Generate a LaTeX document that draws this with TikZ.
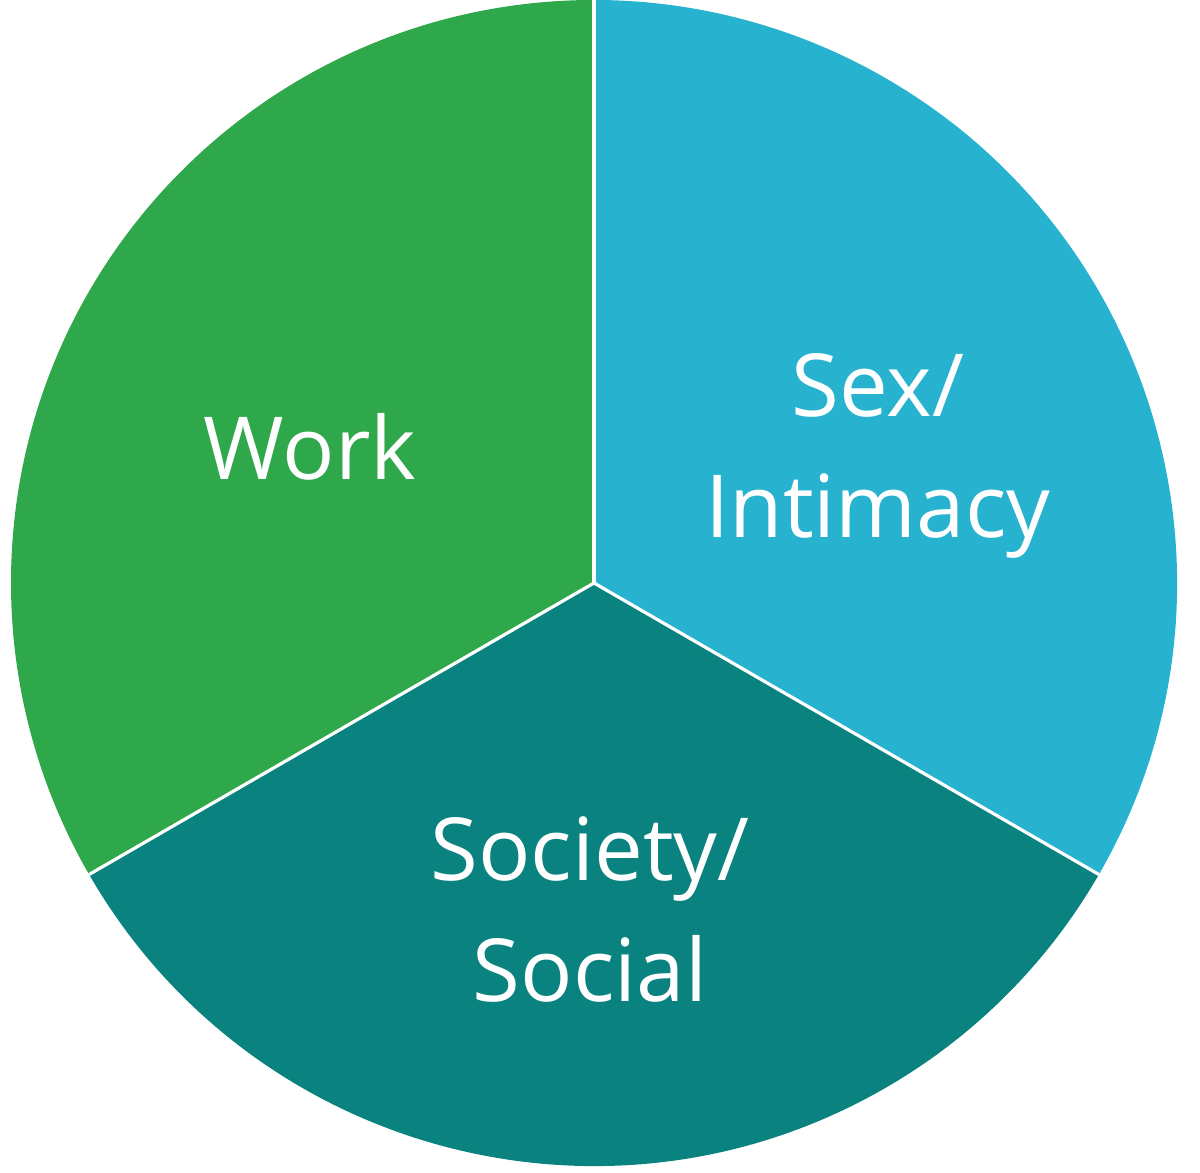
\documentclass[tikz,border=0pt]{standalone}
\usepackage{fontspec}
\setmainfont{Open Sans}
\usetikzlibrary{positioning,calc}
\definecolor{munka}{HTML}{2EA84A}
\definecolor{intim}{HTML}{27B2CF}
\definecolor{tars}{HTML}{0A827F}
\tikzset{
  szelet/.style={draw=none},
  valaszto/.style={draw=white,line width=1.6pt},
  felirat/.style={text=white,align=center,inner sep=0pt,font=\fontsize{43.5}{60.5}\selectfont},
}

\begin{document}
\begin{tikzpicture}[x=1pt,y=1pt]
  \useasboundingbox (0,0) rectangle (600,586.5);
  \coordinate (o) at (297,295);
  \def\rr{291.5}
  % three equal slices
  \fill[munka,szelet] (o) -- ($(o)+(90:\rr)$) arc (90:210:\rr) -- cycle;
  \fill[tars,szelet] (o) -- ($(o)+(210:\rr)$) arc (210:330:\rr) -- cycle;
  \fill[intim,szelet] (o) -- ($(o)+(330:\rr)$) arc (-30:90:\rr) -- cycle;
  \coordinate (fent) at ($(o)+(90:\rr)$);
  \coordinate (bal) at ($(o)+(210:\rr)$);
  \coordinate (jobb) at ($(o)+(330:\rr)$);
  \draw[valaszto] (o) -- (fent);
  \draw[valaszto] (o) -- (bal);
  \draw[valaszto] (o) -- (jobb);
  \node[felirat] (w) at (155,363) {Work};
  \node[felirat] (s) at (439,358.5) {Sex/\\Intimacy};
  \node[felirat] (t) at (295,131.5) {Society/\\Social};
\end{tikzpicture}
\end{document}
